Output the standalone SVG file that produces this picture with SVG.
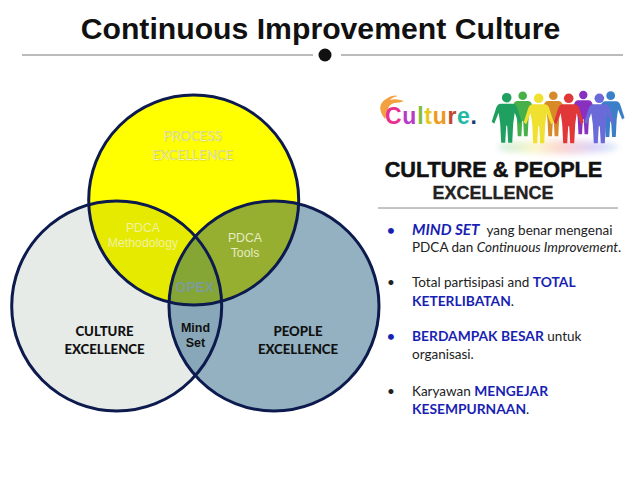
<svg xmlns="http://www.w3.org/2000/svg" width="638" height="478" viewBox="0 0 638 478">
<style>
text{font-family:"Liberation Sans",Arial,sans-serif}
.c{font-family:Lato,"Open Sans",sans-serif;font-size:13.5px;fill:#222}
.b{font-weight:700;fill:#1a1fb4;font-size:13.8px}
.o{fill:none;stroke:#0c1a4e;stroke-width:3}
.lab{font-family:Lato,"Open Sans",sans-serif;font-weight:900;font-size:13.2px;fill:#111;text-anchor:middle}
.pl{font-size:12.3px;text-anchor:middle}
.h{font-family:Lato,"Open Sans",sans-serif;font-size:13.4px;fill:#f6f6c0;stroke:#a8a860;stroke-width:.25;text-anchor:middle}
.ms{font-size:12.5px;font-weight:700;fill:#111;text-anchor:middle}
</style>
<defs>
<clipPath id="ct"><circle cx="193.7" cy="200" r="105"/></clipPath>
<clipPath id="cl"><circle cx="116.7" cy="306" r="105"/></clipPath>
<clipPath id="cr"><circle cx="274" cy="306" r="105"/></clipPath>
<linearGradient id="rf" x1="0" x2="1"><stop offset="0" stop-color="#7fd0a0"/><stop offset=".3" stop-color="#f5ee90"/><stop offset=".55" stop-color="#f5a0a0"/><stop offset=".8" stop-color="#b0a0f0"/><stop offset="1" stop-color="#a0c8f0"/></linearGradient>
<filter id="bl" x="-20%" y="-80%" width="140%" height="260%"><feGaussianBlur stdDeviation="3"/></filter>
<g id="man"><circle cx="0" cy="0" r="4.8"/><path d="M-6 6H6Q9 6 10.500 10L15 24 12.500 26 8 15 6.500 26 5.500 45H1.500L0.500 28H-.5L-1.500 45H-5.500L-6.500 26-8 15-12.500 26-15 24-10.500 10Q-9 6-6 6Z"/></g>
</defs>
<g id="title">
<text x="320.500" y="39" font-size="30.200" font-weight="700" text-anchor="middle" fill="#111">Continuous Improvement Culture</text>
<path d="M22 55H313M341 55H623" stroke="#777" stroke-width="1"/>
<circle cx="325" cy="55" r="6.500" fill="#111"/>
</g>
<g id="venn">
<circle cx="193.700" cy="200" r="105" fill="#ffff00"/>
<circle cx="116.700" cy="306" r="105" fill="#e6ebe8"/>
<circle cx="274" cy="306" r="105" fill="#93b1c1"/>
<g clip-path="url(#ct)"><circle cx="116.700" cy="306" r="105" fill="#e6ea00"/><circle cx="274" cy="306" r="105" fill="#97af30"/></g>
<g clip-path="url(#cl)"><circle cx="274" cy="306" r="105" fill="#88a8b9"/><g clip-path="url(#ct)"><circle cx="274" cy="306" r="105" fill="#85a535"/></g></g>
<circle class="o" cx="193.700" cy="200" r="105"/>
<circle class="o" cx="116.700" cy="306" r="105"/>
<circle class="o" cx="274" cy="306" r="105"/>
</g>
<g id="process"><text class="h" x="193" y="141">PROCESS</text><text class="h" x="193" y="160">EXCELLENCE</text></g>
<g id="pdca-method"><text class="pl" x="143" y="232" fill="#f0f2a0">PDCA</text><text class="pl" x="143" y="247" fill="#f0f2a0">Methodology</text></g>
<g id="pdca-tools"><text class="pl" x="245" y="242" fill="#e4ecc4">PDCA</text><text class="pl" x="245" y="257" fill="#e4ecc4">Tools</text></g>
<g id="opex"><text x="195" y="292" font-size="14" font-weight="700" fill="#7c9c96" text-anchor="middle">OPEX</text></g>
<g id="culture"><text class="lab" x="104.500" y="336">CULTURE</text><text class="lab" x="104.500" y="354">EXCELLENCE</text></g>
<g id="mindset"><text class="ms" x="195.500" y="332">Mind</text><text class="ms" x="195.500" y="347">Set</text></g>
<g id="people"><text class="lab" x="298" y="336">PEOPLE</text><text class="lab" x="298" y="354">EXCELLENCE</text></g>
<g id="culture-logo">
<path d="M385 119Q375 106 386 99Q392 94 398 96Q392 97 390 100Q396 98 404 101Q400 103 394 103Q388 105 388 110Z" fill="#f2a040"/>
<text x="385" y="124" font-size="23" font-weight="700" textLength="92"><tspan fill="#e8308f">C</tspan><tspan fill="#b83ac8">u</tspan><tspan fill="#7cc040">l</tspan><tspan fill="#e8c820">t</tspan><tspan fill="#f09820">u</tspan><tspan fill="#c04a30">r</tspan><tspan fill="#20b8a0">e</tspan><tspan fill="#1f3a70">.</tspan></text>
</g>
<g id="crowd">
<ellipse cx="558" cy="147" rx="60" ry="7" fill="url(#rf)" opacity=".45" filter="url(#bl)"/>
<use href="#man" transform="translate(610.700 95.700) scale(.92)" fill="#3a7fc8"/>
<use href="#man" transform="translate(583.300 95) scale(.87)" fill="#8a30c0"/>
<use href="#man" transform="translate(553.300 95.700) scale(.9)" fill="#d88a28"/>
<use href="#man" transform="translate(522.700 95.700) scale(.9)" fill="#48b048"/>
<use href="#man" transform="translate(599.300 98.300)" fill="#6a6ad8"/>
<use href="#man" transform="translate(568.700 98.300)" fill="#e03838"/>
<use href="#man" transform="translate(538.700 98.300)" fill="#f0e030"/>
<use href="#man" transform="translate(506.700 97.700)" fill="#20a060"/>
</g>
<g id="heading">
<text x="493.500" y="177" font-size="21.700" font-weight="700" text-anchor="middle" fill="#111" stroke="#111" stroke-width=".5">CULTURE &amp; PEOPLE</text>
<text x="493" y="199" font-size="18" font-weight="700" text-anchor="middle" fill="#222" stroke="#222" stroke-width=".3">EXCELLENCE</text>
<path d="M378 208H618" stroke="#888" stroke-width="1"/>
</g>
<g id="bullets">
<text class="c" x="387" y="235" style="fill:#1a1fb4;font-weight:700">•</text>
<text class="c" x="412" y="235"><tspan class="b" font-style="italic" style="font-size:15.300px">MIND SET</tspan><tspan dx="7">yang benar mengenai</tspan></text>
<text class="c" x="412" y="252">PDCA dan <tspan font-style="italic">Continuous Improvement</tspan>.</text>
<text class="c" x="387" y="287">•</text>
<text class="c" x="412" y="287">Total partisipasi and <tspan class="b">TOTAL</tspan></text>
<text class="c" x="412" y="306"><tspan class="b">KETERLIBATAN</tspan>.</text>
<text class="c" x="387" y="341" style="fill:#1a1fb4;font-weight:700">•</text>
<text class="c" x="412" y="341"><tspan class="b">BERDAMPAK BESAR</tspan> untuk</text>
<text class="c" x="412" y="359">organisasi.</text>
<text class="c" x="387" y="396">•</text>
<text class="c" x="412" y="396">Karyawan <tspan class="b">MENGEJAR</tspan></text>
<text class="c" x="412" y="414"><tspan class="b">KESEMPURNAAN</tspan>.</text>
</g>
</svg>
